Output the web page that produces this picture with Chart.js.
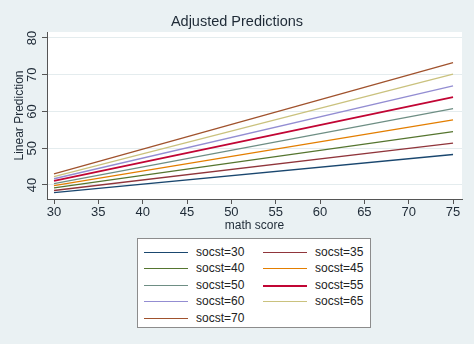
<!DOCTYPE html>
<html>
<head>
<meta charset="utf-8">
<script src="https://cdn.jsdelivr.net/npm/chart.js@4"></script>
<style>
  html, body { margin: 0; padding: 0; background: #eaf1f3; }
  #wrap { position: relative; width: 474px; height: 344px; }
  #title {
    position: absolute; left: 0; top: 12px; width: 474px; text-align: center;
    font-family: "Liberation Sans", Arial, sans-serif; font-size: 14.5px; line-height: 18px; color: #1e2a36;
  }
  #legend {
    position: absolute; left: 137px; top: 238px; width: 232px; height: 88px;
    background: #fff; border: 1px solid #8c8c8c;
    font-family: "Liberation Sans", Arial, sans-serif; font-size: 12px; color: #222;
  }
  .item { position: absolute; height: 14px; line-height: 14px; }
  .swatch { position: absolute; top: 7px; width: 44px; }
  .label { position: absolute; left: 52px; top: 0; white-space: nowrap; }
</style>
</head>
<body>
<div id="wrap">
  <canvas id="chart" width="474" height="344"></canvas>
  <div id="title">Adjusted Predictions</div>
  <div id="legend"></div>
</div>
<script>
// x values where the margins were computed
const mathScore = [30, 75];
const socstLevels = [30, 35, 40, 45, 50, 55, 60, 65, 70];
// linear prediction at math=30 and math=75, one per socst level
const predAt30 = [37.9, 38.5, 39.2, 39.8, 40.4, 41.1, 41.7, 42.3, 43.0];
const predAt75 = [48.3, 51.4, 54.5, 57.7, 60.8, 63.9, 67.0, 70.2, 73.3];
const xTicks = [30, 35, 40, 45, 50, 55, 60, 65, 70, 75];
const yTicks = [40, 50, 60, 70, 80];

// stata s2color
const colors = ["#1a476f", "#90353b", "#55752f", "#e37e00", "#6e8e84",
                "#c10534", "#938dd2", "#cac27e", "#a0522d"];
const widths = [1.3, 1.3, 1.3, 1.3, 1.3, 1.7, 1.3, 1.3, 1.3];

const datasets = socstLevels.map((s, i) => ({
  label: "socst=" + s,
  data: [{ x: mathScore[0], y: predAt30[i] }, { x: mathScore[1], y: predAt75[i] }],
  borderColor: colors[i],
  borderWidth: widths[i],
  pointRadius: 0,
  fill: false
}));

const plotBg = {
  id: "plotBg",
  beforeDraw(chart) {
    const a = chart.chartArea;
    const ctx = chart.ctx;
    ctx.save();
    ctx.fillStyle = "#ffffff";
    ctx.fillRect(a.left, a.top, a.right - a.left, a.bottom - a.top);
    ctx.restore();
  }
};

const font = "'Liberation Sans', Arial, sans-serif";

const chart = new Chart(document.getElementById("chart"), {
  type: "line",
  data: { datasets: datasets },
  options: {
    responsive: false,
    animation: false,
    layout: { padding: { left: 0, right: 12, top: 32, bottom: 111 } },
    plugins: {
      legend: { display: false },
      tooltip: { enabled: false }
    },
    scales: {
      x: {
        type: "linear",
        min: 29.21,
        max: 76.01,
        afterBuildTicks: (scale) => { scale.ticks = xTicks.map(v => ({ value: v })); },
        afterFit: (scale) => { scale.height = 34; },
        grid: { drawOnChartArea: false, color: "#555", tickColor: "#555", tickLength: 5 },
        border: { color: "#555", width: 1 },
        ticks: { color: "#1e2a36", font: { family: font, size: 13 }, padding: 1, autoSkip: false, maxRotation: 0 },
        title: { display: true, text: "math score", color: "#1e2a36", font: { family: font, size: 12 }, padding: { top: 0, bottom: 0 } }
      },
      y: {
        type: "linear",
        min: 36.19,
        max: 81.63,
        afterBuildTicks: (scale) => { scale.ticks = yTicks.map(v => ({ value: v })); },
        afterFit: (scale) => { scale.width = 47; },
        grid: { color: "#e4ecee", tickColor: "#555", tickLength: 5, lineWidth: 1 },
        border: { color: "#555", width: 1 },
        ticks: { color: "#1e2a36", font: { family: font, size: 13 }, padding: 2, autoSkip: false,
                 minRotation: 90, maxRotation: 90, crossAlign: "center" },
        title: { display: true, text: "Linear Prediction", color: "#1e2a36", font: { family: font, size: 12 }, padding: { top: 12.8, bottom: 0 } }
      }
    }
  },
  plugins: [plotBg]
});

// legend box, two columns like stata
const legend = document.getElementById("legend");
chart.data.datasets.forEach((ds, i) => {
  const col = i % 2;
  const row = Math.floor(i / 2);
  const item = document.createElement("div");
  item.className = "item";
  item.style.left = (col === 0 ? 6 : 125) + "px";
  item.style.top = (5.5 + row * 16.6) + "px";
  const sw = document.createElement("div");
  sw.className = "swatch";
  sw.style.height = (ds.borderWidth > 1.5 ? 2 : 1) + "px";
  sw.style.background = ds.borderColor;
  const lb = document.createElement("span");
  lb.className = "label";
  lb.textContent = ds.label;
  item.appendChild(sw);
  item.appendChild(lb);
  legend.appendChild(item);
});
</script>
</body>
</html>
